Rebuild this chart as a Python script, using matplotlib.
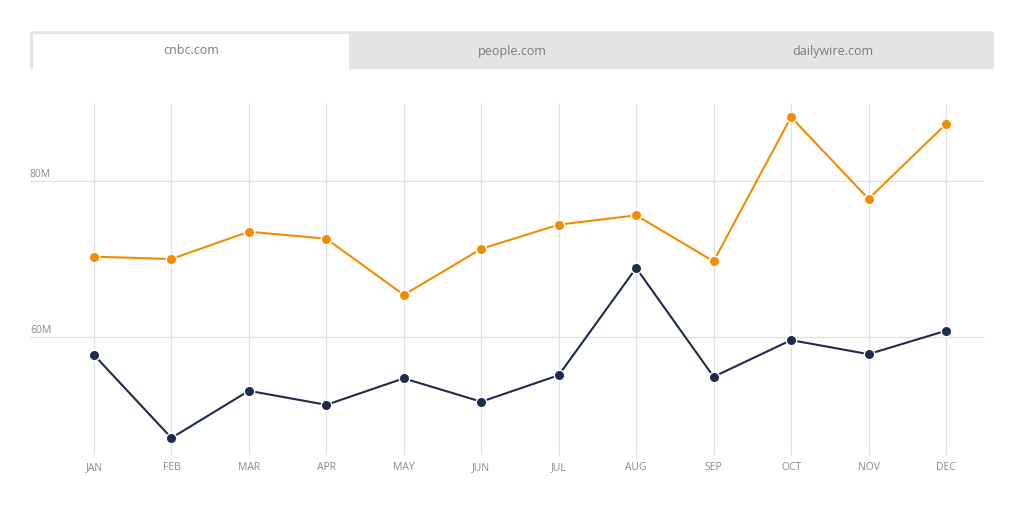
import matplotlib
matplotlib.use("Agg")
import matplotlib.pyplot as plt
from matplotlib.patches import FancyBboxPatch, Rectangle

# data (millions)
months = ["JAN", "FEB", "MAR", "APR", "MAY", "JUN", "JUL", "AUG", "SEP", "OCT", "NOV", "DEC"]
orange_vals = [70.3, 70.0, 73.5, 72.6, 65.4, 71.3, 74.4, 75.6, 69.7, 88.2, 77.7, 87.3]
navy_vals = [57.7, 47.05, 53.1, 51.3, 54.7, 51.7, 55.1, 68.85, 54.9, 59.6, 57.8, 60.8]
y_ticks = [60, 80]
y_labels = ["60M", "80M"]
tabs = ["cnbc.com", "people.com", "dailywire.com"]

plt.rcParams['font.family'] = ['Open Sans', 'DejaVu Sans']

W, H = 1024, 512
fig = plt.figure(figsize=(W / 100, H / 100), dpi=100)


def fx(px):
    return px / W


def fy(py):
    return 1 - py / H


# tab bar
bar = FancyBboxPatch((fx(30), fy(69)), fx(964), 38 / H,
                     boxstyle="round,pad=0,rounding_size=0.004",
                     transform=fig.transFigure, facecolor="#e5e5e5",
                     edgecolor="none", zorder=0)
fig.patches.append(bar)
active = FancyBboxPatch((fx(33), fy(69)), fx(316), 35 / H,
                        boxstyle="round,pad=0,rounding_size=0.003",
                        transform=fig.transFigure, facecolor="white",
                        edgecolor="none", zorder=1)
fig.patches.append(active)
# square off the bottom corners of active tab
fig.patches.append(Rectangle((fx(33), fy(69)), fx(316), 6 / H,
                             transform=fig.transFigure, facecolor="white",
                             edgecolor="none", zorder=1))
for name, cx in zip(tabs, [191, 512, 833]):
    fig.text(fx(cx), fy(51), name, ha="center", va="center",
             fontsize=9, color="#7a7a7a", zorder=2)

# chart area
ax = fig.add_axes([fx(30), fy(455), fx(955), 352 / H])
x = list(range(len(months)))

for xi in x:
    ax.axvline(xi, color="#e0e0e0", lw=0.9, zorder=0)
for yt in y_ticks:
    ax.axhline(yt, color="#e0e0e0", lw=0.9, zorder=0)

ax.plot(x, orange_vals, color="#f28c00", lw=1.5, marker="o", ms=7.5,
        mfc="#f28c00", mec="white", mew=1.0, zorder=3)
ax.plot(x, navy_vals, color="#1f2a4f", lw=1.5, marker="o", ms=7.5,
        mfc="#1f2a4f", mec="white", mew=1.0, zorder=3)

ax.set_xlim(-0.826, 11.504)
ax.set_ylim(44.87, 90.0)

for yt, lab in zip(y_ticks, y_labels):
    ax.text(-0.826, yt + 0.8, lab, ha="left", va="center",
            fontsize=7.5, color="#8a8a8a")

ax.set_xticks(x)
ax.set_xticklabels(months, fontsize=7.5, color="#8a8a8a")
ax.tick_params(axis="x", length=0, pad=5)
ax.set_yticks([])
for s in ax.spines.values():
    s.set_visible(False)

fig.savefig("out.png", dpi=100)
